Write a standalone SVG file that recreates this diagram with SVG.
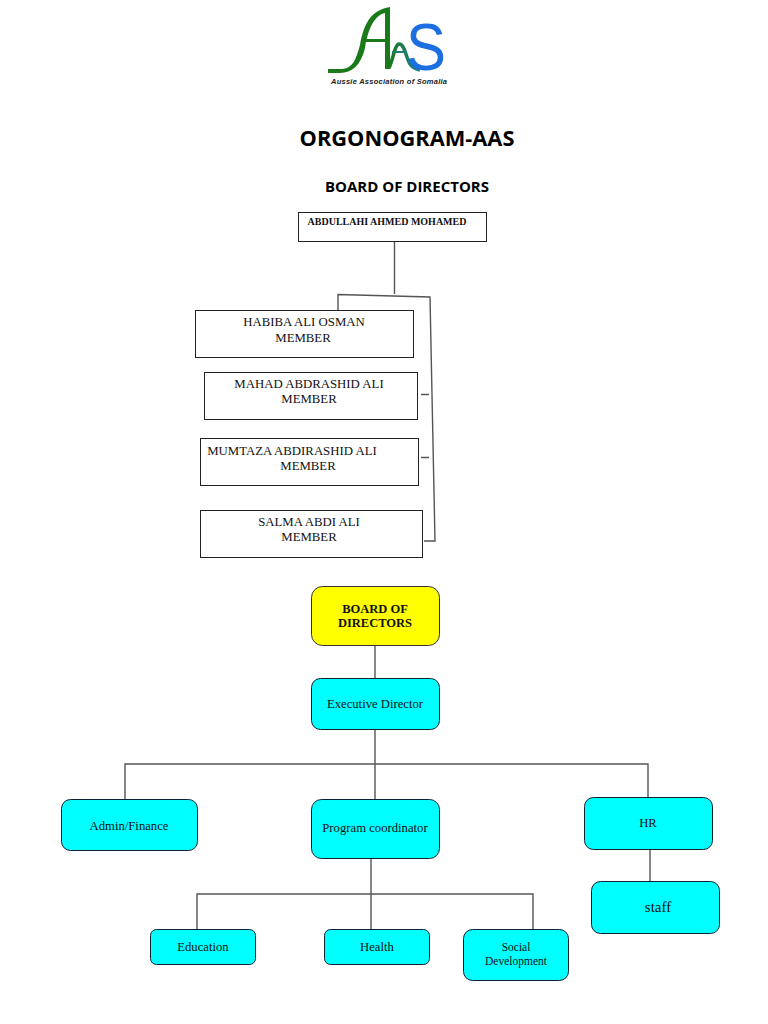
<svg xmlns="http://www.w3.org/2000/svg" width="768" height="1024" viewBox="0 0 768 1024">
<defs><linearGradient id="g" x1="0" y1="0" x2="1" y2="0"><stop offset="0" stop-color="#1a7a1a"/><stop offset="1" stop-color="#1f7f90"/></linearGradient></defs>
<style>
text{font-family:"Liberation Serif",serif;fill:#111;text-anchor:middle}
.h{font-family:"Open Sans","Noto Sans",sans-serif;font-weight:700;fill:#000}
.box{fill:#fff;stroke:#222;stroke-width:1}
.cy{fill:#00ffff;stroke:#123;stroke-width:1}
.m{font-size:12.8px}
.s{font-size:12.700px}
.c{fill:none;stroke:#555;stroke-width:1.4}
</style>
<rect width="768" height="1024" fill="#fff"/>
<g id="logo">
<path d="M328 69H342C352 69 356 60 360 45C364 22 372 10 390 7V69H385V13C375 15 368 28 365 48C361 65 352 73 340 73H328Z" fill="#1a7a1a"/>
<rect x="365" y="39" width="20" height="3" fill="#1a7a1a"/>
<path d="M389 68C393 60 395 44 399 44C405 44 406 58 410 64C412 68 416 69 420 70" fill="none" stroke="url(#g)" stroke-width="3.500"/>
<path d="M392 52H406" fill="none" stroke="#1f7f70" stroke-width="2"/>
<text x="426" y="70" style="font-family:'Liberation Sans',sans-serif;font-size:66px;fill:#1c6fe0" textLength="40" lengthAdjust="spacingAndGlyphs">S</text>
<text x="389" y="84" style="font-family:'Liberation Sans',sans-serif;font-size:7.500px;font-weight:700;font-style:italic;fill:#222" textLength="116">Aussie Association of Somalia</text>
</g>
<text class="h" x="407" y="146" font-size="21.800">ORGONOGRAM-AAS</text>
<text class="h" x="407" y="192" font-size="15">BOARD OF DIRECTORS</text>
<g id="connectors">
<path class="c" d="M394.500 241V294M338 310V294.500L430 297L435 541H424M421 394.500H429M421 457.500H429"/>
<path class="c" d="M375 646V679M375 730V764M125 799V764H648V798M375 764V799M371 858V929M197 929V894H533V930M650 849V882"/>
</g>
<g id="n1"><rect class="box" x="298.500" y="212.500" width="188" height="29"/><text x="387" y="225" font-size="10" font-weight="700">ABDULLAHI AHMED MOHAMED</text></g>
<g id="n2"><rect class="box" x="195.500" y="310.500" width="218" height="47"/><text class="m" x="304" y="326">HABIBA ALI OSMAN</text><text class="m" x="303" y="342">MEMBER</text></g>
<g id="n3"><rect class="box" x="204.500" y="372.500" width="213" height="47"/><text class="m" x="309" y="388">MAHAD ABDRASHID ALI</text><text class="m" x="309" y="403">MEMBER</text></g>
<g id="n4"><rect class="box" x="200.500" y="438.500" width="218" height="47"/><text class="m" x="292" y="455">MUMTAZA ABDIRASHID ALI</text><text class="m" x="308" y="470">MEMBER</text></g>
<g id="n5"><rect class="box" x="200.500" y="510.500" width="222" height="47"/><text class="m" x="309" y="526">SALMA ABDI ALI</text><text class="m" x="309" y="541">MEMBER</text></g>
<g id="n6"><rect x="311.500" y="586.500" width="128" height="59" rx="11" fill="#ffff00" stroke="#333"/><text x="375" y="613" font-size="12.500" font-weight="700">BOARD OF</text><text x="375" y="627" font-size="12.500" font-weight="700">DIRECTORS</text></g>
<g id="n7"><rect class="cy" x="311.500" y="678.500" width="128" height="51" rx="9"/><text class="s" x="375" y="708">Executive Director</text></g>
<g id="n8"><rect class="cy" x="61.500" y="799.500" width="136" height="51" rx="9"/><text class="s" x="129" y="830">Admin/Finance</text></g>
<g id="n9"><rect class="cy" x="311.500" y="799.500" width="128" height="59" rx="10"/><text class="s" x="375" y="832">Program coordinator</text></g>
<g id="n10"><rect class="cy" x="584.500" y="797.500" width="128" height="52" rx="9"/><text class="s" x="648" y="827">HR</text></g>
<g id="n11"><rect class="cy" x="591.500" y="881.500" width="128" height="52" rx="9"/><text x="658" y="912" font-size="15">staff</text></g>
<g id="n12"><rect class="cy" x="150.500" y="929.500" width="105" height="35" rx="6"/><text class="s" x="203" y="951">Education</text></g>
<g id="n13"><rect class="cy" x="324.500" y="929.500" width="105" height="35" rx="6"/><text class="s" x="377" y="951">Health</text></g>
<g id="n14"><rect class="cy" x="463.500" y="929.500" width="105" height="51" rx="9"/><text x="516" y="951" font-size="11.500">Social</text><text x="516" y="965" font-size="11.500">Development</text></g>
</svg>
